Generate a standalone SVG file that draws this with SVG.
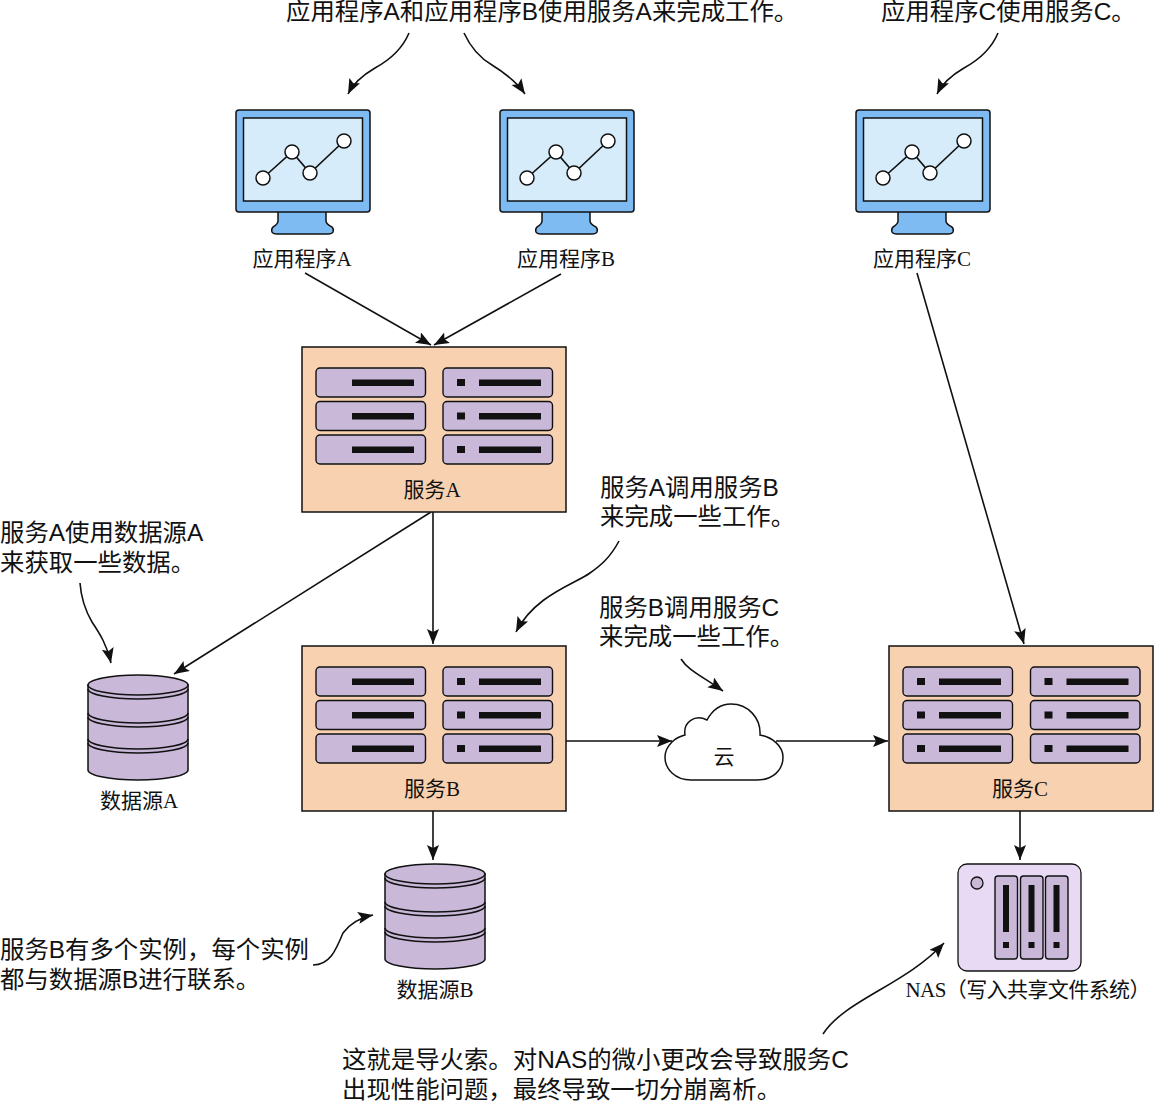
<svg xmlns="http://www.w3.org/2000/svg" width="1162" height="1101" viewBox="0 0 1162 1101">
<style>
.note{font-family:"Liberation Sans","Noto Sans CJK SC",sans-serif;font-size:24.4px;fill:#111}
.lab{font-family:"Liberation Serif","Noto Sans CJK SC",serif;font-size:21px;fill:#111;text-anchor:middle}
.conn{fill:none;stroke:#111;stroke-width:1.6}
.line{fill:none;stroke:#111;stroke-width:1.6}
.blade{fill:#c9b8d8;stroke:#111;stroke-width:1.4}
.mon{fill:#7fbbf3;stroke:#111;stroke-width:1.5}
.pt{fill:#fff;stroke:#111;stroke-width:1.5}
</style>
<defs>
<marker id="a" markerUnits="userSpaceOnUse" markerWidth="18" markerHeight="14" refX="15" refY="6" orient="auto"><path d="M0 0L15 6L0 12L3 6Z" fill="#111"/></marker>
<g id="monitor">
<path class="mon" d="M58 118V131Q58 134 53 137Q51 139 52 142Q53 144 57 144H108Q112 144 113 142Q114 139 112 137Q106 134 106 131V118Z"/>
<rect class="mon" x="16" y="20" width="134" height="102" rx="3"/>
<rect x="23.500" y="28" width="119" height="83" fill="#d7ecfb" stroke="#111" stroke-width="1.500"/>
<path class="line" d="M43 88L72 62L90 83L124 51"/>
<circle class="pt" cx="43" cy="88" r="7"/><circle class="pt" cx="72" cy="62" r="7"/><circle class="pt" cx="90" cy="83" r="7"/><circle class="pt" cx="124" cy="51" r="7"/>
</g>
<g id="blade"><rect class="blade" x="0" y="0" width="109.500" height="29" rx="4"/><rect x="36" y="11.500" width="62" height="6.500" fill="#111"/></g>
<g id="bladeD"><rect class="blade" x="0" y="0" width="109.500" height="29" rx="4"/><rect x="36" y="11.500" width="62" height="6.500" fill="#111"/><rect x="14" y="11" width="8" height="7" fill="#111"/></g>
<g id="db">
<path d="M0 10V95A50 10 0 0 0 100 95V10Z" fill="#c9b8d8" stroke="#111" stroke-width="1.500"/>
<ellipse cx="50" cy="10" rx="50" ry="10" fill="#c9b8d8" stroke="#111" stroke-width="1.500"/>
<path class="line" d="M0 14A50 10 0 0 0 100 14M0 38A50 10 0 0 0 100 38M0 42A50 10 0 0 0 100 42M0 64A50 10 0 0 0 100 64M0 68A50 10 0 0 0 100 68"/>
</g>
</defs>

<g id="connectors">
<path class="conn" marker-end="url(#a)" d="M409 33C401 52 386 62 375 68C363 75 354 82 348 94"/>
<path class="conn" marker-end="url(#a)" d="M464 33C470 46 480 58 492 65C505 73 516 81 525 94"/>
<path class="conn" marker-end="url(#a)" d="M998 33C990 52 975 62 964 68C952 75 943 82 937 94"/>
<path class="conn" marker-end="url(#a)" d="M305 273L431 345"/>
<path class="conn" marker-end="url(#a)" d="M561 274L434 345"/>
<path class="conn" marker-end="url(#a)" d="M917 273L1024 644"/>
<path class="conn" marker-end="url(#a)" d="M433 512V644"/>
<path class="conn" marker-end="url(#a)" d="M431 512L174 674"/>
<path class="conn" marker-end="url(#a)" d="M619 541C610 558 600 566 590 573C575 584 535 595 516 632"/>
<path class="conn" marker-end="url(#a)" d="M681 659C688 670 700 675 723 691"/>
<path class="conn" marker-end="url(#a)" d="M80 583C81 597 85 610 92 622C100 634 107 645 111 663"/>
<path class="conn" marker-end="url(#a)" d="M566 741H672"/>
<path class="conn" marker-end="url(#a)" d="M776 741H888"/>
<path class="conn" marker-end="url(#a)" d="M433 811V860"/>
<path class="conn" marker-end="url(#a)" d="M1020 811V860"/>
<path class="conn" marker-end="url(#a)" d="M313 965C330 965 336 950 343 933C349 925 358 918 373 915"/>
<path class="conn" marker-end="url(#a)" d="M823 1034C845 1000 905 985 944 943"/>
</g>

<g id="app-a"><use href="#monitor" x="220" y="90"/><text class="lab" x="302" y="266">应用程序A</text></g>
<g id="app-b"><use href="#monitor" x="484" y="90"/><text class="lab" x="566" y="266">应用程序B</text></g>
<g id="app-c"><use href="#monitor" x="840" y="90"/><text class="lab" x="922" y="266">应用程序C</text></g>

<g id="service-a">
<rect x="302" y="347" width="264" height="165" fill="#f7d1b0" stroke="#111" stroke-width="1.500"/>
<use href="#blade" x="316" y="368"/><use href="#blade" x="316" y="401.500"/><use href="#blade" x="316" y="435"/>
<use href="#bladeD" x="443" y="368"/><use href="#bladeD" x="443" y="401.500"/><use href="#bladeD" x="443" y="435"/>
<text class="lab" x="432" y="497">服务A</text>
</g>
<g id="service-b">
<rect x="302" y="646" width="264" height="165" fill="#f7d1b0" stroke="#111" stroke-width="1.500"/>
<use href="#blade" x="316" y="667"/><use href="#blade" x="316" y="700.500"/><use href="#blade" x="316" y="734"/>
<use href="#bladeD" x="443" y="667"/><use href="#bladeD" x="443" y="700.500"/><use href="#bladeD" x="443" y="734"/>
<text class="lab" x="432" y="796">服务B</text>
</g>
<g id="service-c">
<rect x="889" y="646" width="264" height="165" fill="#f7d1b0" stroke="#111" stroke-width="1.500"/>
<use href="#bladeD" x="903" y="667"/><use href="#bladeD" x="903" y="700.500"/><use href="#bladeD" x="903" y="734"/>
<use href="#bladeD" x="1030.500" y="667"/><use href="#bladeD" x="1030.500" y="700.500"/><use href="#bladeD" x="1030.500" y="734"/>
<text class="lab" x="1020" y="796">服务C</text>
</g>
<g id="datasource-a"><use href="#db" x="88" y="675"/><text class="lab" x="139" y="808">数据源A</text></g>
<g id="datasource-b"><use href="#db" x="385" y="864"/><text class="lab" x="435" y="997">数据源B</text></g>
<g id="cloud">
<path d="M672 742C676 738 681 736 685 735C683 722 695 714 707 720C713 709 722 704 731 704C748 704 761 718 760 735C772 737 783 746 783 757C783 770 773 780 757 780H691C675 780 665 769 665 757C665 751 668 746 672 742Z" fill="#fff" stroke="#111" stroke-width="1.500"/>
<text class="lab" x="724" y="764">云</text>
</g>
<g id="nas">
<rect x="958" y="864" width="123" height="107" rx="9" fill="#e8daf5" stroke="#111" stroke-width="1.300"/>
<circle cx="977" cy="883" r="6" fill="#c9b8d8" stroke="#111" stroke-width="1.300"/>
<rect class="blade" x="995" y="876" width="22.500" height="83" rx="3"/><rect x="1003" y="885" width="6" height="47" fill="#111"/><rect x="1003" y="942" width="6" height="6" fill="#111"/>
<rect class="blade" x="1020.500" y="876" width="22.500" height="83" rx="3"/><rect x="1028.500" y="885" width="6" height="47" fill="#111"/><rect x="1028.500" y="942" width="6" height="6" fill="#111"/>
<rect class="blade" x="1045.500" y="876" width="22.500" height="83" rx="3"/><rect x="1053.500" y="885" width="6" height="47" fill="#111"/><rect x="1053.500" y="942" width="6" height="6" fill="#111"/>
<text class="lab" x="1028" y="997" textLength="245" lengthAdjust="spacing">NAS（写入共享文件系统）</text>
</g>

<g id="notes">
<text class="note" x="286" y="20">应用程序A和应用程序B使用服务A来完成工作。</text>
<text class="note" x="881" y="20">应用程序C使用服务C。</text>
<text class="note" x="0" y="541">服务A使用数据源A</text>
<text class="note" x="0" y="571">来获取一些数据。</text>
<text class="note" x="600" y="496">服务A调用服务B</text>
<text class="note" x="600" y="525">来完成一些工作。</text>
<text class="note" x="599" y="616">服务B调用服务C</text>
<text class="note" x="599" y="645">来完成一些工作。</text>
<text class="note" x="0" y="958">服务B有多个实例，每个实例</text>
<text class="note" x="0" y="988">都与数据源B进行联系。</text>
<text class="note" x="342" y="1068">这就是导火索。对NAS的微小更改会导致服务C</text>
<text class="note" x="342" y="1098">出现性能问题，最终导致一切分崩离析。</text>
</g>
</svg>
